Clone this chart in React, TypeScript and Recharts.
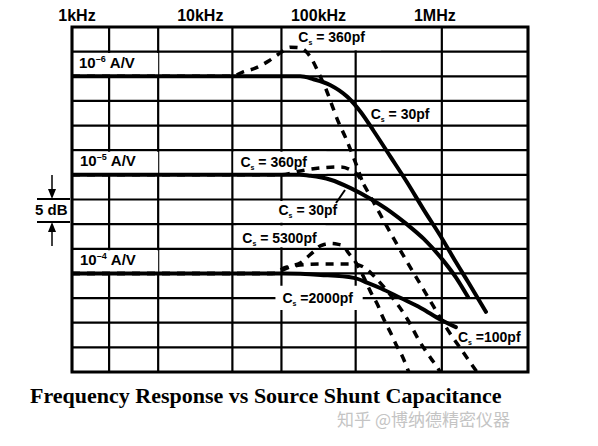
import React from 'react';
import { LineChart, Line, XAxis, YAxis, CartesianGrid, ReferenceArea } from 'recharts';

// ---------- axes ----------
const freqGrid = [1000, 2000, 5000, 10000, 20000, 50000, 100000, 200000, 500000, 1000000, 2000000, 5000000];
const freqLabelValues = [1000, 10000, 100000, 1000000];
const freqLabelText = ['1kHz', '10kHz', '100kHz', '1MHz'];
const dbGrid = [0, 5, 10, 15, 20, 25, 30, 35, 40, 45, 50, 55, 60, 65, 70];

// ---------- series (frequency in Hz, response in dB, relative scale) ----------
// 10^-6 A/V, Cs = 30 pF (solid)
const gain6Cs30 = [
  { f: 1000, db: 60 }, { f: 71000, db: 60 }, { f: 91000, db: 59.4 }, { f: 125000, db: 58.2 },
  { f: 172000, db: 55.8 }, { f: 219000, db: 52.8 }, { f: 280000, db: 48.9 }, { f: 385000, db: 43.6 },
  { f: 519000, db: 38.6 }, { f: 714000, db: 32.9 }, { f: 1020000, db: 26.8 }, { f: 1300000, db: 22.3 },
  { f: 1630000, db: 18.3 }, { f: 2280000, db: 12.2 },
];
// 10^-6 A/V, Cs = 360 pF (dashed)
const gain6Cs360 = [
  { f: 1000, db: 60 }, { f: 20000, db: 60 }, { f: 24000, db: 60.8 }, { f: 31000, db: 61.7 },
  { f: 40000, db: 63.2 }, { f: 50000, db: 64.9 }, { f: 59000, db: 65.9 }, { f: 70000, db: 65.8 },
  { f: 80000, db: 64.9 }, { f: 89000, db: 63.3 }, { f: 100000, db: 60.7 }, { f: 114000, db: 57.6 },
  { f: 130000, db: 53.8 }, { f: 145000, db: 50.7 }, { f: 166000, db: 47.5 }, { f: 189000, db: 44.0 },
  { f: 207000, db: 41.4 }, { f: 228000, db: 38.4 },
];
// 10^-5 A/V, Cs = 30 pF (solid)
const gain5Cs30 = [
  { f: 1000, db: 40 }, { f: 70000, db: 40 }, { f: 86000, db: 39.8 }, { f: 125000, db: 39.0 },
  { f: 182000, db: 37.3 }, { f: 265000, db: 35.1 }, { f: 385000, db: 32.5 }, { f: 519000, db: 30.0 },
  { f: 714000, db: 27.0 }, { f: 1020000, db: 22.7 }, { f: 1300000, db: 19.2 }, { f: 1630000, db: 15.2 },
];
// 10^-5 A/V, Cs = 360 pF (dashed)
const gain5Cs360 = [
  { f: 1000, db: 40 }, { f: 49000, db: 40 }, { f: 71000, db: 40.8 }, { f: 104000, db: 41.4 },
  { f: 151000, db: 41.6 }, { f: 182000, db: 41.0 }, { f: 207000, db: 40.0 }, { f: 228000, db: 38.4 },
  { f: 265000, db: 35.5 }, { f: 302000, db: 32.9 }, { f: 400000, db: 27.4 }, { f: 529000, db: 22.1 },
  { f: 638000, db: 18.7 }, { f: 861000, db: 13.2 }, { f: 1120000, db: 8.5 }, { f: 1480000, db: 4.1 },
  { f: 1930000, db: 0 },
];
// 10^-4 A/V, Cs = 100 pF (solid)
const gain4Cs100 = [
  { f: 1000, db: 20 }, { f: 52000, db: 20 }, { f: 104000, db: 19.7 }, { f: 193000, db: 19.1 },
  { f: 250000, db: 18.1 }, { f: 319000, db: 17.0 }, { f: 464000, db: 15.0 }, { f: 675000, db: 13.0 },
  { f: 982000, db: 10.6 }, { f: 1300000, db: 9.1 },
];
// 10^-4 A/V, Cs = 5300 pF (dashed)
const gain4Cs5300 = [
  { f: 1000, db: 20 }, { f: 45000, db: 20 }, { f: 52000, db: 21.1 }, { f: 59000, db: 21.5 },
  { f: 71000, db: 22.1 }, { f: 81000, db: 23.3 }, { f: 91000, db: 24.4 }, { f: 100000, db: 25.4 },
  { f: 112000, db: 25.9 }, { f: 128000, db: 26.1 }, { f: 145000, db: 25.9 }, { f: 160000, db: 25.6 },
  { f: 172000, db: 24.4 }, { f: 200000, db: 22.3 }, { f: 232000, db: 19.3 }, { f: 265000, db: 16.2 },
  { f: 302000, db: 13.6 }, { f: 331000, db: 11.2 }, { f: 385000, db: 7.9 }, { f: 423000, db: 5.7 },
  { f: 482000, db: 3.0 }, { f: 539000, db: 0 },
];
// 10^-4 A/V, Cs = 2000 pF (dashed)
const gain4Cs2000 = [
  { f: 1000, db: 20 }, { f: 42000, db: 20 }, { f: 59000, db: 21.3 }, { f: 71000, db: 21.7 },
  { f: 104000, db: 21.9 }, { f: 193000, db: 21.9 }, { f: 250000, db: 20.7 }, { f: 280000, db: 19.5 },
  { f: 400000, db: 15.0 }, { f: 529000, db: 10.6 }, { f: 650000, db: 6.5 }, { f: 814000, db: 2.8 },
  { f: 928000, db: 0.8 }, { f: 970000, db: 0 },
];

// ---------- curve annotations (white boxes in data units) ----------
const gainLabels = [
  { f1: 1000, f2: 5000, d1: 60.1, d2: 64.7, exp: '6', padX: 7, padY: 8 },
  { f1: 1000, f2: 5000, d1: 40.1, d2: 44.7, exp: '5', padX: 8, padY: 8 },
  { f1: 1000, f2: 5000, d1: 20.1, d2: 24.7, exp: '4', padX: 8, padY: 8 },
];
const capLabels = [
  { f1: 59000, f2: 319000, d1: 65.3, d2: 69.8, text: '\u00A0= 360pf', padX: 8, padY: 8 },
  { f1: 228000, f2: 814000, d1: 50.3, d2: 54.7, text: '\u00A0= 30pf', padX: 8, padY: 5 },
  { f1: 20400, f2: 116000, d1: 40.3, d2: 44.7, text: '\u00A0= 360pf', padX: 7, padY: 6 },
  { f1: 42300, f2: 166000, d1: 30.3, d2: 34.7, text: '\u00A0= 30pf', padX: 6, padY: 8 },
  { f1: 21500, f2: 114000, d1: 25.3, d2: 29.7, text: '\u00A0= 5300pf', padX: 6, padY: 4 },
  { f1: 44700, f2: 228000, d1: 12.6, d2: 17.5, text: '\u00A0=2000pf', padX: 7, padY: 7 },
  { f1: 1230000, f2: 4910000, d1: 5.3, d2: 9.3, text: '\u00A0=100pf', padX: 5, padY: 4 },
];

const SANS = "'Liberation Sans', Arial, Helvetica, sans-serif";
const SERIF = "'Liberation Serif', 'Times New Roman', serif";
const labelOffsets = [5, 5, 0, -7];

const GainText = (props: any) => {
  const { viewBox, exp, padX, padY } = props;
  if (!viewBox) return null;
  const x = viewBox.x + padX;
  const y = viewBox.y + viewBox.height - padY;
  return (
    <text x={x} y={y} fontFamily={SANS} fontWeight="bold" fontSize={15} fill="#000">
      10<tspan fontSize={9} dy={-6}>{'\u2013' + exp}</tspan>
      <tspan dy={6}>{'\u00A0A/V'}</tspan>
    </text>
  );
};

const CapText = (props: any) => {
  const { viewBox, text, padX, padY } = props;
  if (!viewBox) return null;
  const x = viewBox.x + padX;
  const y = viewBox.y + viewBox.height - padY;
  return (
    <text x={x} y={y} fontFamily={SANS} fontWeight="bold" fontSize={14} fill="#000">
      C<tspan fontSize={7} dy={3}>s</tspan>
      <tspan dy={-3}>{text}</tspan>
    </text>
  );
};

const TopTick = (props: any) => {
  const { x, payload, index } = props;
  const i = freqLabelValues.indexOf(payload.value);
  return (
    <text x={x + (labelOffsets[i] ?? 0)} y={21} textAnchor="middle" fontFamily={SANS}
      fontWeight="bold" fontSize={16} fill="#000">
      {freqLabelText[i >= 0 ? i : index]}
    </text>
  );
};

export default function App() {
  const solid = { stroke: '#000', strokeWidth: 4, dot: false, isAnimationActive: false, type: 'monotone' as const, strokeLinecap: 'round' as const };
  const dashed = { ...solid, strokeWidth: 3.5, strokeDasharray: '8 7', strokeLinecap: 'butt' as const };
  return (
    <div style={{ position: 'absolute', left: 0, top: 0, width: 598, height: 446, background: '#fff' }}>
      <LineChart width={598} height={446} margin={{ top: 7, right: 70, bottom: 74, left: 72 }}>
        <XAxis dataKey="f" type="number" scale="log" domain={[1000, 5000000]} allowDataOverflow
          ticks={freqGrid} hide />
        <XAxis xAxisId="top" orientation="top" dataKey="f" type="number" scale="log"
          domain={[1000, 5000000]} allowDataOverflow ticks={freqLabelValues} height={20}
          axisLine={false} tickLine={false} tick={<TopTick />} interval={0} />
        <YAxis type="number" domain={[0, 70]} ticks={dbGrid} allowDataOverflow hide />
        <CartesianGrid stroke="#000" strokeWidth={2.2} strokeOpacity={1} />
        {gainLabels.map((l, i) => (
          <ReferenceArea key={'g' + i} x1={l.f1} x2={l.f2} y1={l.d1} y2={l.d2} fill="#fff"
            fillOpacity={1} stroke="none" ifOverflow="visible"
            label={<GainText exp={l.exp} padX={l.padX} padY={l.padY} />} />
        ))}
        {capLabels.map((l, i) => (
          <ReferenceArea key={'c' + i} x1={l.f1} x2={l.f2} y1={l.d1} y2={l.d2} fill="#fff"
            fillOpacity={1} stroke="none" ifOverflow="visible"
            label={<CapText text={l.text} padX={l.padX} padY={l.padY} />} />
        ))}
        <ReferenceArea x1={1000} x2={5000000} y1={0} y2={70} fill="none" stroke="#000"
          strokeWidth={3} ifOverflow="visible" />
        <Line data={gain6Cs30} dataKey="db" {...solid} />
        <Line data={gain6Cs360} dataKey="db" {...dashed} />
        <Line data={gain5Cs30} dataKey="db" {...solid} />
        <Line data={gain5Cs360} dataKey="db" {...dashed} />
        <Line data={gain4Cs100} dataKey="db" {...solid} />
        <Line data={gain4Cs5300} dataKey="db" {...dashed} />
        <Line data={gain4Cs2000} dataKey="db" {...dashed} />
      </LineChart>
      <svg width={598} height={446} style={{ position: 'absolute', left: 0, top: 0, pointerEvents: 'none' }}>
        <line x1={37} y1={199} x2={70} y2={199} stroke="#000" strokeWidth={2} />
        <line x1={37} y1={222} x2={70} y2={222} stroke="#000" strokeWidth={2} />
        <line x1={52} y1={175} x2={52} y2={192} stroke="#000" strokeWidth={1.5} />
        <polygon points="48,189 56,189 52,199" fill="#000" />
        <line x1={52} y1={229} x2={52} y2={246} stroke="#000" strokeWidth={1.5} />
        <polygon points="48,232 56,232 52,222" fill="#000" />
        <text x={35} y={215} fontFamily={SANS} fontWeight="bold" fontSize={15} fill="#000">5 dB</text>
        <line x1={336} y1={203} x2={345} y2={190} stroke="#000" strokeWidth={2} />
        <text x={30} y={403} fontFamily={SERIF} fontWeight="bold" fontSize={22} fill="#000">
          Frequency Response vs Source Shunt Capacitance
        </text>
        <text x={510} y={426} textAnchor="end" fontFamily="'Noto Sans CJK SC', sans-serif"
          fontSize={17} fill="#c4c4c4">知乎 @博纳德精密仪器</text>
      </svg>
    </div>
  );
}
